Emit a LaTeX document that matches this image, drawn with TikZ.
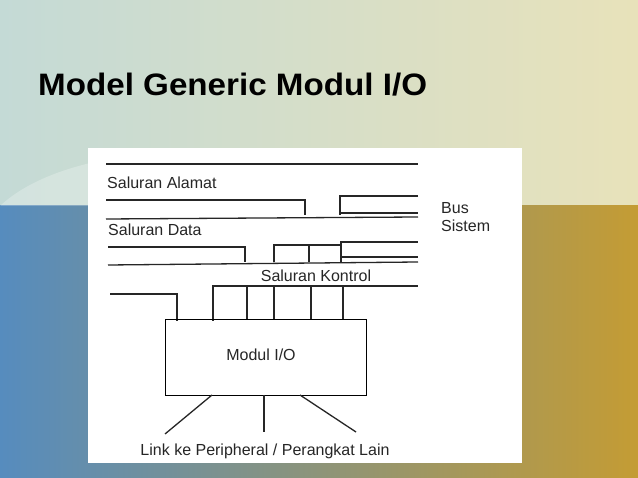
\documentclass[tikz,border=0pt]{standalone}
\usepackage{fontspec}
\setmainfont{Liberation Sans}
\begin{document}
\begin{tikzpicture}[x=1pt,y=-1pt,
  wire/.style={line width=1.3pt,black!85},
  lbl/.style={font=\fontsize{16}{18}\selectfont,inner sep=0pt,text=black!85}]
\useasboundingbox (0,0) rectangle (638,478);
\shade[left color={rgb,255:red,196;green,218;blue,214},right color={rgb,255:red,232;green,226;blue,186}] (0,0) rectangle (638,206);
\shade[left color={rgb,255:red,86;green,140;blue,190},right color={rgb,255:red,196;green,156;blue,52}] (0,206) rectangle (638,478);
\fill[white,opacity=0.25] (0,206) .. controls (60,150) and (200,140) .. (330,160) -- (330,206) -- cycle;
\node[anchor=west,inner sep=0pt,font=\bfseries\fontsize{31}{34}\selectfont,xscale=1.07] (title) at (38,85) {Model Generic Modul I/O};
\fill[white] (88,148) rectangle (522,463);
% address bus
\draw[wire] (106,164) -- (418,164);
\node[lbl,anchor=west] (alamat) at (107,183) {Saluran Alamat};
\draw[wire] (106,200) -- (305,200) -- (305,215);
\draw[wire] (418,196) -- (340,196) -- (340,215);
\draw[wire] (340,213) -- (418,213);
\draw[wire] (106,219) -- (418,217);
% data bus
\node[lbl,anchor=west] (data) at (108,230) {Saluran Data};
\draw[wire] (108,247) -- (245,247) -- (245,262);
\draw[wire] (274,262) -- (274,245) -- (341,245);
\draw[wire] (309,245) -- (309,262);
\draw[wire] (341,262) -- (341,242) -- (418,242);
\draw[wire] (341,257) -- (418,257);
\draw[wire] (108,265) -- (418,262);
% control bus
\node[lbl] (kontrol) at (316,276) {Saluran Kontrol};
\draw[wire] (110,294) -- (177,294) -- (177,321);
\draw[wire] (213,321) -- (213,286) -- (418,286);
\foreach \x in {247,274,311,343} \draw[wire] (\x,286) -- (\x,320);
% module
\node[draw,line width=1.3pt,minimum width=201pt,minimum height=76pt,anchor=north west,inner sep=0pt] (mod) at (165,319) {};
\node[lbl] (modl) at (261,355) {Modul I/O};
\coordinate (l1) at (165,434);
\coordinate (l2) at (264,432);
\coordinate (l3) at (356,432);
\draw[wire] (212,395) -- (l1);
\draw[wire] (264,395) -- (l2);
\draw[wire] (300,395) -- (l3);
\node[lbl] (link) at (265,451) {Link ke Peripheral / Perangkat Lain};
\node[lbl,anchor=west] (bus) at (441,208) {Bus};
\node[lbl,anchor=west] (sistem) at (441,226) {Sistem};
\end{tikzpicture}
\end{document}
